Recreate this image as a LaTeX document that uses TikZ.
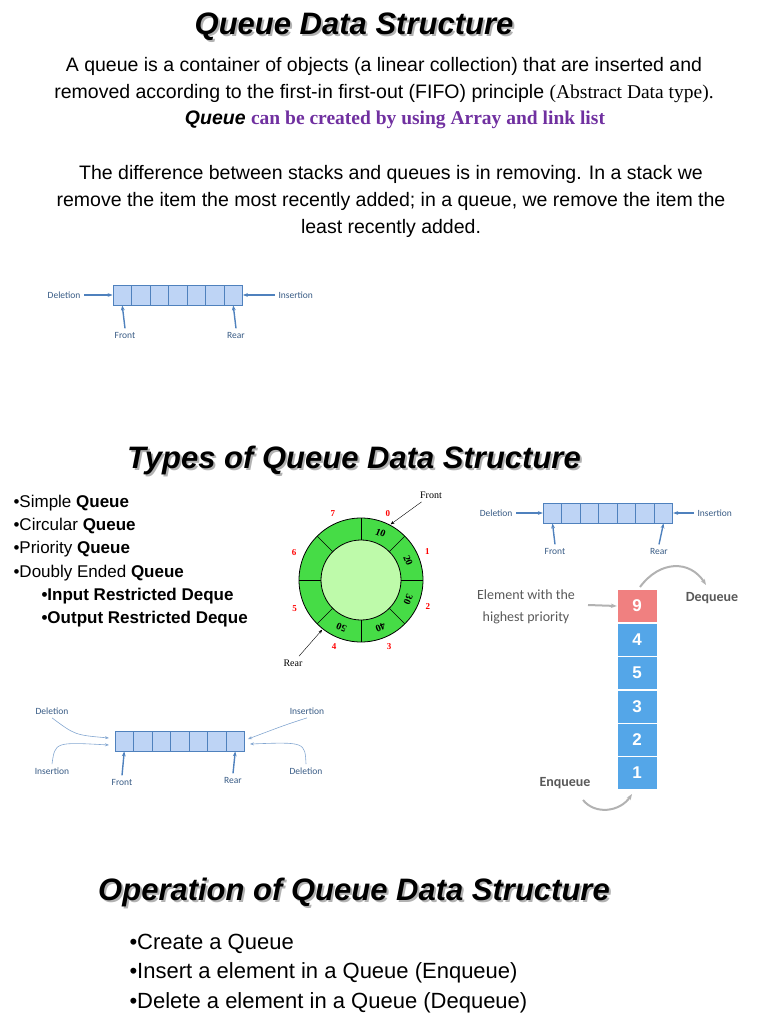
\documentclass[tikz,border=0pt]{standalone}
\usepackage{fontspec}
\setmainfont{Liberation Sans}
\newfontfamily\serifface{Liberation Serif}
\newfontfamily\lblface{Carlito}
\usetikzlibrary{arrows.meta,calc,positioning}
\definecolor{cellblue}{RGB}{190,212,245}
\definecolor{cellline}{RGB}{79,129,189}
\definecolor{ringgreen}{RGB}{70,220,70}
\definecolor{innergreen}{RGB}{190,250,170}
\definecolor{prioblue}{RGB}{84,166,232}
\definecolor{priored}{RGB}{240,128,128}
\definecolor{titlepurple}{RGB}{112,48,160}
\tikzset{
  heading/.style={font=\fontsize{31}{33}\selectfont\bfseries\itshape},
  body/.style={font=\fontsize{19.5}{27}\selectfont, align=center},
  qcell/.style={draw=cellline, fill=cellblue, line width=0.8pt, minimum width=18.5pt, minimum height=20pt, inner sep=0pt},
  qarrow/.style={-{Stealth[length=5pt]}, cellline, line width=1.4pt},
  qcurve/.style={-{Stealth[length=4pt]}, cellline!70, line width=0.6pt},
  qlbl/.style={font=\lblface\fontsize{9.5}{10}\selectfont, text=cellline!70!black},
  pcell/.style={draw=white, fill=prioblue, minimum width=40pt, minimum height=33pt, text=white, font=\fontsize{17}{18}\selectfont\bfseries},
  garrow/.style={-{Stealth[length=6pt]}, gray!60, line width=2pt},
  idx/.style={text=red, font=\serifface\bfseries\fontsize{9}{10}\selectfont},
  val/.style={font=\serifface\bfseries\fontsize{10}{11}\selectfont}
}
% row of seven cells, named <prefix>1 .. <prefix>7
\newcommand{\qrow}[3]{%
  \foreach \i in {1,...,7}
    \node[qcell] (#1\i) at ({#2+(\i-1)*18.5}, #3) {};}
\begin{document}
\begin{tikzpicture}[x=1pt,y=-1pt]
\useasboundingbox (0,0) rectangle (768,1024);
% titles
\node[heading, text=gray!60] at (356,29) {Queue Data Structure};
\node[heading] (t1) at (354,27) {Queue Data Structure};
\node[heading, text=gray!60] at (356,462) {Types of Queue Data Structure};
\node[heading] (t2) at (354,460) {Types of Queue Data Structure};
\node[heading, text=gray!60] at (356,894) {Operation of Queue Data Structure};
\node[heading] (t3) at (354,892) {Operation of Queue Data Structure};
% intro
\node[body] (p1) at (384,80) {A queue is a container of objects (a linear collection) that are inserted and\\
removed according to the first-in first-out (FIFO) principle {\serifface(Abstract Data type).}};
\node[body] (p2) at (395,120) {{\bfseries\itshape Queue} {\serifface\bfseries\color{titlepurple} can be created by using Array and link list}};
\node[body] (p3) at (391,201) {The difference between stacks and queues is in removing. In a stack we\\
remove the item the most recently added; in a queue, we remove the item the\\
least recently added.};
% first queue
\qrow{a}{122.25}{295}
\node[qlbl, anchor=east] (adel) at (84,295) {Deletion};
\node[qlbl, anchor=west] (ains) at (275,295) {Insertion};
\node[qlbl] (afr) at (125,335) {Front};
\node[qlbl] (are) at (236,335) {Rear};
\draw[qarrow] (adel) -- (a1);
\draw[qarrow] (ains) -- (a7);
\draw[qarrow] (afr.north) -- (a1.south);
\draw[qarrow] (are.north) -- (a7.south);
% list
\begin{scope}[every node/.style={anchor=west, font=\fontsize{17}{19}\selectfont}]
\node (l1) at (10,503) {\textbullet Simple \textbf{Queue}};
\node (l2) at (10,526) {\textbullet Circular \textbf{Queue}};
\node (l3) at (10,549) {\textbullet Priority \textbf{Queue}};
\node (l4) at (10,573) {\textbullet Doubly Ended \textbf{Queue}};
\node (l5) at (38,596) {\textbf{\textbullet Input Restricted Deque}};
\node (l6) at (38,619) {\textbf{\textbullet Output Restricted Deque}};
\end{scope}
% circular queue
\coordinate (cc) at (361,580);
\fill[ringgreen, draw=black, line width=0.8pt] (cc) circle[radius=62];
\foreach \a in {0,45,...,315}
  \draw[line width=0.6pt] ($(cc)+(\a:40)$) -- ($(cc)+(\a:62)$);
\fill[innergreen, draw=black, line width=0.8pt] (cc) circle[radius=40];
\foreach \k in {0,...,7}
  \node[idx] (ix\k) at ($(cc)+({45*\k-68}:72)$) {\k};
\foreach \v [count=\k from 0] in {10,20,30,40,50}
  \node[val, rotate={67.5-45*\k-90}] (v\v) at ($(cc)+({45*\k-67.5}:51)$) {\v};
\node[font=\serifface\fontsize{10}{11}\selectfont] (cfr) at (431,495) {Front};
\node[font=\serifface\fontsize{10}{11}\selectfont] (cre) at (293,663) {Rear};
\coordinate (cfe) at ($(cc)+(-62:63)$);
\coordinate (cre2) at ($(cc)+(128:63)$);
\draw[-{Stealth[length=4pt]}, line width=0.4pt] (cfr) -- (cfe);
\draw[-{Stealth[length=4pt]}, line width=0.4pt] (cre) -- (cre2);
% second queue
\qrow{b}{552.5}{513}
\node[qlbl, anchor=east] (bdel) at (516,513) {Deletion};
\node[qlbl, anchor=west] (bins) at (694,513) {Insertion};
\node[qlbl] (bfr) at (555,551) {Front};
\node[qlbl] (bre) at (659,551) {Rear};
\draw[qarrow] (bdel) -- (b1);
\draw[qarrow] (bins) -- (b7);
\draw[qarrow] (bfr.north) -- (b1.south);
\draw[qarrow] (bre.north) -- (b7.south);
% priority queue
\node[pcell, fill=priored] (p9) at (637,606) {9};
\node[pcell, below=0pt of p9] (p4) {4};
\node[pcell, below=0pt of p4] (p5) {5};
\node[pcell, below=0pt of p5] (p3n) {3};
\node[pcell, below=0pt of p3n] (p2n) {2};
\node[pcell, below=0pt of p2n] (p1n) {1};
\node[align=center, text=gray!70!black, font=\lblface\fontsize{14}{22}\selectfont] (hp) at (526,607) {Element with the\\highest priority};
\node[text=gray!70!black, font=\lblface\bfseries\fontsize{14}{15}\selectfont] (deq) at (712,598) {Dequeue};
\node[text=gray!70!black, font=\lblface\bfseries\fontsize{14}{15}\selectfont] (enq) at (565,783) {Enqueue};
\coordinate (hpe) at (588,605);
\draw[garrow] (hpe) -- (p9.west);
\coordinate (dqs) at (640,587);
\coordinate (dqe) at (706,585);
\draw[garrow] (dqs) .. controls (660,560) and (690,560) .. (dqe);
\coordinate (eqs) at (583,800);
\coordinate (eqe) at (632,794);
\draw[garrow] (eqs) .. controls (595,815) and (620,812) .. (eqe);
% third queue
\qrow{c}{124.25}{741}
\node[qlbl] (cd1) at (52,711) {Deletion};
\node[qlbl] (ci1) at (52,771) {Insertion};
\node[qlbl] (ci2) at (307,711) {Insertion};
\node[qlbl] (cd2) at (306,771) {Deletion};
\node[qlbl] (cfr3) at (122,782) {Front};
\node[qlbl] (cre3) at (233,780) {Rear};
\coordinate (cl1) at (109,738);
\coordinate (cl2) at (109,745);
\coordinate (cr1) at (248,739);
\coordinate (cr2) at (250,744);
\draw[qcurve] (cd1.south) .. controls (75,735) .. (cl1);
\draw[qcurve] (ci1.north) .. controls (55,742) .. (cl2);
\draw[qcurve] (ci2.south) .. controls (285,725) .. (cr1);
\draw[qcurve] (cd2.north) .. controls (305,742) .. (cr2);
\draw[qarrow] (cfr3.north) -- (c1.south);
\draw[qarrow] (cre3.north) -- (c7.south);
% operations
\begin{scope}[every node/.style={anchor=west, font=\fontsize{22}{24}\selectfont}]
\node (o1) at (126,944) {\textbullet Create a Queue};
\node (o2) at (126,973) {\textbullet Insert a element in a Queue (Enqueue)};
\node (o3) at (126,1003) {\textbullet Delete a element in a Queue (Dequeue)};
\end{scope}
\end{tikzpicture}
\end{document}
